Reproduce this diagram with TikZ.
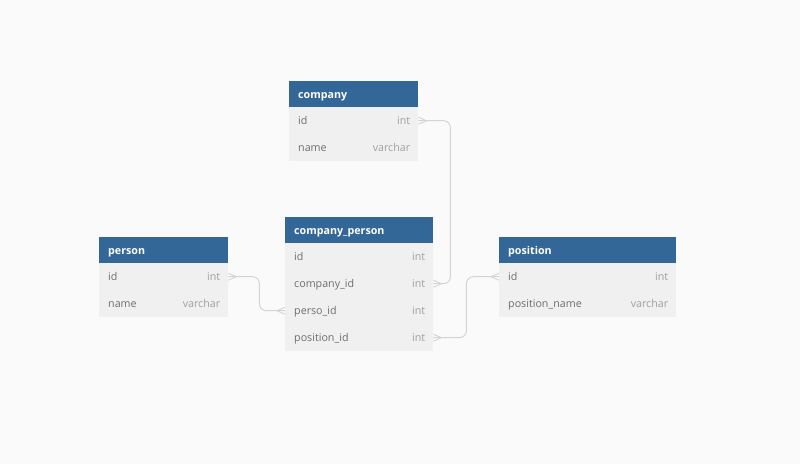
\documentclass[tikz,border=0pt]{standalone}
\usepackage{fontspec}
\setmainfont{Open Sans}
\begin{document}
\begin{tikzpicture}[x=1pt,y=-1pt]
\definecolor{bg}{RGB}{250,250,250}
\definecolor{hdr}{RGB}{50,103,152}
\definecolor{rowfill}{RGB}{240,240,240}
\definecolor{fcol}{RGB}{110,110,110}
\definecolor{tcol}{RGB}{160,160,160}
\definecolor{lcol}{RGB}{212,212,212}
\tikzset{
  hbox/.style={rectangle, fill=hdr, anchor=north west, minimum height=26pt, inner sep=0},
  rbox/.style={rectangle, fill=rowfill, anchor=north west, minimum height=27pt, inner sep=0},
  htext/.style={anchor=base west, text=white, font=\fontsize{10.7}{12}\selectfont\bfseries, inner sep=0},
  ftext/.style={anchor=base west, text=fcol, font=\fontsize{10.7}{12}\selectfont, inner sep=0},
  ttext/.style={anchor=base east, text=tcol, font=\fontsize{10.7}{12}\selectfont, inner sep=0},
  conn/.style={draw=lcol, line width=1pt, rounded corners=7pt},
  fork/.style={draw=lcol, line width=0.9pt}
}
\fill[bg] (0,0) rectangle (800,464);
\useasboundingbox (0,0) rectangle (800,464);

% company
\node[hbox, minimum width=129pt] (ch) at (289,81) {};
\node[htext] (cht) at ([xshift=9pt,yshift=-4pt]ch.west) {company};
\node[rbox, minimum width=129pt] (c1) at (289,107) {};
\node[ftext] (c1f) at ([xshift=9pt,yshift=-4pt]c1.west) {id};
\node[ttext] (c1t) at ([xshift=-8pt,yshift=-4pt]c1.east) {int};
\node[rbox, minimum width=129pt] (c2) at (289,134) {};
\node[ftext] (c2f) at ([xshift=9pt,yshift=-4pt]c2.west) {name};
\node[ttext] (c2t) at ([xshift=-8pt,yshift=-4pt]c2.east) {varchar};

% person
\node[hbox, minimum width=129pt] (ph) at (99,237) {};
\node[htext] (pht) at ([xshift=9pt,yshift=-4pt]ph.west) {person};
\node[rbox, minimum width=129pt] (p1) at (99,263) {};
\node[ftext] (p1f) at ([xshift=9pt,yshift=-4pt]p1.west) {id};
\node[ttext] (p1t) at ([xshift=-8pt,yshift=-4pt]p1.east) {int};
\node[rbox, minimum width=129pt] (p2) at (99,290) {};
\node[ftext] (p2f) at ([xshift=9pt,yshift=-4pt]p2.west) {name};
\node[ttext] (p2t) at ([xshift=-8pt,yshift=-4pt]p2.east) {varchar};

% company_person
\node[hbox, minimum width=148pt] (kh) at (285,217) {};
\node[htext] (kht) at ([xshift=9pt,yshift=-4pt]kh.west) {company\_person};
\node[rbox, minimum width=148pt] (k1) at (285,243) {};
\node[ftext] (k1f) at ([xshift=9pt,yshift=-4pt]k1.west) {id};
\node[ttext] (k1t) at ([xshift=-8pt,yshift=-4pt]k1.east) {int};
\node[rbox, minimum width=148pt] (k2) at (285,270) {};
\node[ftext] (k2f) at ([xshift=9pt,yshift=-4pt]k2.west) {company\_id};
\node[ttext] (k2t) at ([xshift=-8pt,yshift=-4pt]k2.east) {int};
\node[rbox, minimum width=148pt] (k3) at (285,297) {};
\node[ftext] (k3f) at ([xshift=9pt,yshift=-4pt]k3.west) {perso\_id};
\node[ttext] (k3t) at ([xshift=-8pt,yshift=-4pt]k3.east) {int};
\node[rbox, minimum width=148pt] (k4) at (285,324) {};
\node[ftext] (k4f) at ([xshift=9pt,yshift=-4pt]k4.west) {position\_id};
\node[ttext] (k4t) at ([xshift=-8pt,yshift=-4pt]k4.east) {int};

% position
\node[hbox, minimum width=177pt] (sh) at (499,237) {};
\node[htext] (sht) at ([xshift=9pt,yshift=-4pt]sh.west) {position};
\node[rbox, minimum width=177pt] (s1) at (499,263) {};
\node[ftext] (s1f) at ([xshift=9pt,yshift=-4pt]s1.west) {id};
\node[ttext] (s1t) at ([xshift=-8pt,yshift=-4pt]s1.east) {int};
\node[rbox, minimum width=177pt] (s2) at (499,290) {};
\node[ftext] (s2f) at ([xshift=9pt,yshift=-4pt]s2.west) {position\_name};
\node[ttext] (s2t) at ([xshift=-8pt,yshift=-4pt]s2.east) {varchar};

% connectors
\draw[conn] (c1.east) -- ++(32,0) |- (k2.east);
\draw[conn] (p1.east) -- ++(31,0) |- (k3.west);
\draw[conn] (k4.east) -- ++(33,0) |- (s1.west);

% crow's feet
\draw[fork] ([yshift=-3.5pt]c1.east) -- ([xshift=8pt]c1.east) -- ([yshift=3.5pt]c1.east);
\draw[fork] ([yshift=-3.5pt]k2.east) -- ([xshift=8pt]k2.east) -- ([yshift=3.5pt]k2.east);
\draw[fork] ([yshift=-3.5pt]p1.east) -- ([xshift=8pt]p1.east) -- ([yshift=3.5pt]p1.east);
\draw[fork] ([yshift=-3.5pt]k3.west) -- ([xshift=-8pt]k3.west) -- ([yshift=3.5pt]k3.west);
\draw[fork] ([yshift=-3.5pt]k4.east) -- ([xshift=8pt]k4.east) -- ([yshift=3.5pt]k4.east);
\draw[fork] ([yshift=-3.5pt]s1.west) -- ([xshift=-8pt]s1.west) -- ([yshift=3.5pt]s1.west);
\end{tikzpicture}
\end{document}
